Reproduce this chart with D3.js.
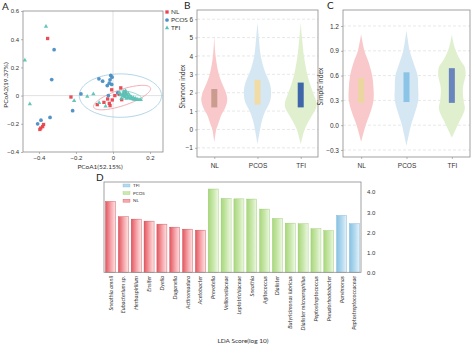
<!DOCTYPE html>
<html>
<head>
<meta charset="utf-8">
<script src="https://cdn.jsdelivr.net/npm/d3@7"></script>
<style>
  body { margin: 0; background: #fff; }
  svg { display: block; font-family: Lato, 'Liberation Sans', sans-serif; }
</style>
</head>
<body>
<svg id="fig" width="474" height="345"></svg>
<script>
// ---- data ----
const groups = ['NL', 'PCOS', 'TFI']

// panel A: PCoA points [PCoA1, PCoA2]
const pointsNL = [[-0.353, 0.405], [-0.227, -0.01], [-0.375, -0.205], [-0.38, -0.22], [-0.39, -0.23], [-0.395, -0.24],
  [-0.007, 0.041], [0.042, 0.055], [0.065, 0.021], [0.034, 0.009], [-0.004, -0.031], [-0.029, -0.024],
  [-0.049, -0.048], [-0.02, -0.055], [-0.085, -0.064], [0.047, -0.029], [-0.016, -0.071], [0.01, 0.0]]
const pointsPCOS = [[-0.318, 0.326], [-0.331, 0.114], [-0.218, -0.107], [-0.34, -0.155], [-0.389, -0.174], [-0.407, -0.2],
  [-0.173, 0.012], [-0.076, 0.119], [-0.056, 0.102], [-0.012, 0.143], [-0.005, 0.131], [-0.016, 0.112],
  [-0.02, 0.088], [-0.007, 0.079], [-0.031, 0.071], [0.025, 0.02], [-0.025, 0.0], [0.06, 0.01]]
const pointsTFI = [[-0.362, 0.49], [-0.476, 0.25], [-0.21, -0.036], [-0.449, -0.06], [-0.139, -0.007], [-0.106, 0.012],
  [0.05, 0.01], [0.055, -0.005], [0.06, 0.02], [0.062, 0.0], [0.065, -0.01], [0.07, 0.012], [0.072, -0.02],
  [0.075, 0.005], [0.08, -0.008], [0.082, 0.015], [0.085, -0.015], [0.09, 0.0], [0.095, -0.02], [0.1, -0.01],
  [0.105, -0.025], [0.11, -0.015], [0.115, -0.028], [0.12, -0.02], [0.125, -0.03], [0.13, -0.025], [0.14, -0.03],
  [0.15, -0.03], [0.058, 0.03], [0.068, 0.035], [0.045, -0.02], [0.04, 0.005], [0.035, 0.02], [-0.04, -0.075], [-0.075, -0.05]]
// ellipses: center x, center y, semi-axis a, semi-axis b, angle (deg, data space)
const ellipsePCOS = [0.04, 0.0, 0.222, 0.154, 0]
const ellipseNL = [0.049, -0.014, 0.168, 0.055, 25]
const ellipseTFI = [0.092, 0.0, 0.07, 0.025, -21]
const ticksA_x = [-0.4, -0.2, 0, 0.2]
const ticksA_y = [-0.4, -0.2, 0, 0.2, 0.4, 0.6]

// panel B: Shannon index violin outlines [value, relative half width]
const shannonNL = [[5.1, 0], [4.0, 0.1], [3.0, 0.35], [2.5, 0.6], [2.0, 0.9], [1.6, 1.0], [1.2, 0.85], [0.8, 0.55], [0.3, 0.3], [0, 0.15], [-0.7, 0]]
const shannonPCOS = [[5.8, 0], [5.0, 0.1], [4.0, 0.25], [3.2, 0.55], [2.5, 0.95], [2.0, 1.05], [1.5, 0.95], [1.0, 0.6], [0.5, 0.35], [0, 0.2], [-0.8, 0]]
const shannonTFI = [[5.8, 0], [5.0, 0.1], [4.0, 0.25], [3.0, 0.5], [2.5, 0.7], [2.0, 0.95], [1.5, 1.2], [1.2, 1.2], [0.8, 0.9], [0.3, 0.5], [0, 0.3], [-0.8, 0]]
const shannonBox = [[1.2, 2.2], [1.35, 2.7], [1.2, 2.55]]
const ticksB = [-1, 0, 1, 2, 3, 4, 5, 6]

// panel C: Simple index
const simpleNL = [[1.1, 0], [0.9, 0.25], [0.75, 0.6], [0.6, 0.85], [0.45, 0.95], [0.3, 0.95], [0.15, 0.7], [0, 0.35], [-0.2, 0]]
const simplePCOS = [[1.15, 0], [0.9, 0.25], [0.75, 0.55], [0.6, 0.85], [0.45, 0.9], [0.3, 0.9], [0.15, 0.65], [0, 0.35], [-0.25, 0]]
const simpleTFI = [[1.1, 0], [0.95, 0.2], [0.8, 0.6], [0.7, 1.0], [0.6, 1.05], [0.45, 0.85], [0.3, 0.9], [0.2, 1.0], [0.05, 0.6], [-0.15, 0]]
const simpleBox = [[0.27, 0.57], [0.28, 0.64], [0.27, 0.69]]
const ticksC = [-0.3, 0, 0.3, 0.6, 0.9, 1.2]

// panel D: LDA scores
const taxa = ['Sneathia amnii', 'Eubacterium sp.', 'Herbaspirillum', 'Ensifer', 'Dyella', 'Duganella', 'Actinomadura',
  'Acetobacter', 'Prevotella', 'Veillonellaceae', 'Leptotrichiaceae', 'Sneathia', 'Agitococcus', 'Dialister',
  'Butyricimonas lubricus', 'Dialister micraerophilus', 'Peptostreptococcus', 'Pseudorhodobacter', 'Parvimonas',
  'Peptostreptococcaceae']
const ldaScore = [3.53, 2.77, 2.65, 2.55, 2.4, 2.25, 2.15, 2.1, 4.15, 3.68, 3.66, 3.65, 3.15, 2.68, 2.45, 2.42, 2.17, 2.08, 2.83, 2.42]
const taxaGroup = ['NL', 'NL', 'NL', 'NL', 'NL', 'NL', 'NL', 'NL', 'PCOS', 'PCOS', 'PCOS', 'PCOS', 'PCOS', 'PCOS',
  'PCOS', 'PCOS', 'PCOS', 'PCOS', 'TFI', 'TFI']
const ticksD = [0, 1, 2, 3, 4]

// ---- styles ----
const ptColor = { NL: '#e8434f', PCOS: '#4a8ec4', TFI: '#5cc3b6' }
const ellColor = { NL: '#f2a3a9', PCOS: '#a9d0e4', TFI: '#7fd0c6' }
const violinFill = ['#f9c8ca', '#d5e7f3', '#e0f0cf']
const boxFillB = ['#c99c8f', '#f0dca4', '#3f66a8']
const boxFillC = ['#ecd6a0', '#8bc4e6', '#6a85bd']
const frameColor = '#8a8a8a'
const textColor = '#333'

const svg = d3.select('#fig')

function label(txt, x, y) {
  svg.append('text').attr('x', x).attr('y', y).attr('font-size', 10).attr('fill', '#222').text(txt)
}

function frame(x0, y0, x1, y1) {
  svg.append('rect').attr('x', x0).attr('y', y0).attr('width', x1 - x0).attr('height', y1 - y0)
    .attr('fill', 'none').attr('stroke', frameColor).attr('stroke-width', 0.8)
}

function styleAxis(g, size) {
  g.select('.domain').remove()
  g.selectAll('line').attr('stroke', frameColor).attr('stroke-width', 0.6)
  g.selectAll('text').attr('font-size', size).attr('fill', textColor).attr('font-family', null)
}

// ---- panel A ----
const ax = d3.scaleLinear().domain([-0.486, 0.27]).range([23, 163])
const ay = d3.scaleLinear().domain([-0.4, 0.6]).range([152, 11])

svg.append('line').attr('x1', ax(0)).attr('x2', ax(0)).attr('y1', ay(0.6)).attr('y2', ay(-0.4))
  .attr('stroke', '#d4d4d4').attr('stroke-width', 0.7)
svg.append('line').attr('x1', ax.range()[0]).attr('x2', ax.range()[1]).attr('y1', ay(0)).attr('y2', ay(0))
  .attr('stroke', '#d4d4d4').attr('stroke-width', 0.7)

function ellipsePath(e) {
  const [cx, cy, a, b, deg] = e
  const t = deg * Math.PI / 180
  const pts = d3.range(0, 2 * Math.PI + 0.01, Math.PI / 60).map(s => {
    const u = a * Math.cos(s), v = b * Math.sin(s)
    return [ax(cx + u * Math.cos(t) - v * Math.sin(t)), ay(cy + u * Math.sin(t) + v * Math.cos(t))]
  })
  return d3.line()(pts)
}
svg.append('path').attr('d', ellipsePath(ellipsePCOS)).attr('fill', 'none').attr('stroke', ellColor.PCOS).attr('stroke-width', 0.9)
svg.append('path').attr('d', ellipsePath(ellipseNL)).attr('fill', 'none').attr('stroke', ellColor.NL).attr('stroke-width', 0.9)
svg.append('path').attr('d', ellipsePath(ellipseTFI)).attr('fill', 'none').attr('stroke', ellColor.TFI).attr('stroke-width', 0.9)

const sym = {
  NL: d3.symbol().type(d3.symbolSquare).size(11),
  PCOS: d3.symbol().type(d3.symbolCircle).size(11),
  TFI: d3.symbol().type(d3.symbolTriangle).size(8)
}
const pointSets = [['PCOS', pointsPCOS], ['NL', pointsNL], ['TFI', pointsTFI]]
pointSets.forEach(([g, pts]) => {
  svg.append('g').selectAll('path').data(pts).join('path')
    .attr('d', sym[g])
    .attr('transform', d => `translate(${ax(d[0])},${ay(d[1])})`)
    .attr('fill', ptColor[g]).attr('fill-opacity', 0.95)
})

frame(23, 11, 163, 152)
const axA = svg.append('g').attr('transform', 'translate(0,152)')
  .call(d3.axisBottom(ax).tickValues(ticksA_x).tickSize(2).tickPadding(1.5).tickFormat(d => d === 0 ? '0' : d3.format('.1f')(d)))
styleAxis(axA, 6)
const ayA = svg.append('g').attr('transform', 'translate(23,0)')
  .call(d3.axisLeft(ay).tickValues(ticksA_y).tickSize(2).tickPadding(2).tickFormat(d => d === 0 ? '0' : d3.format('.1f')(d)))
styleAxis(ayA, 6)

svg.append('text').attr('x', 100).attr('y', 168.5).attr('text-anchor', 'middle')
  .attr('font-size', 6.5).attr('fill', textColor).text('PCoA1(52.15%)')
svg.append('text').attr('transform', 'translate(8,85) rotate(-90)').attr('text-anchor', 'middle')
  .attr('font-size', 6.5).attr('fill', textColor).text('PCoA2(19.37%)')

// legend A
groups.forEach((g, i) => {
  const y = 12 + i * 8
  svg.append('path').attr('d', sym[g]).attr('transform', `translate(167,${y})`).attr('fill', ptColor[g])
  svg.append('text').attr('x', 171).attr('y', y + 2.3).attr('font-size', 6.5).attr('fill', textColor).text(g)
})
label('A', 2, 10)

// ---- violin panels ----
function violinPanel(x0, x1, y0, y1, domain, ticks, fmt, series, boxes, boxFill, yTitle, titleX, halfMax) {
  const y = d3.scaleLinear().domain(domain).range([y1, y0])
  const x = d3.scalePoint().domain(groups).range([x0, x1]).padding(0.4)
  const w = d3.scaleLinear().domain([0, 1]).range([0, halfMax])

  svg.append('g').selectAll('line').data(ticks).join('line')
    .attr('x1', x0).attr('x2', x1).attr('y1', d => y(d)).attr('y2', d => y(d))
    .attr('stroke', '#d9d9d9').attr('stroke-width', 0.6).attr('stroke-dasharray', '3,2')

  series.forEach((s, i) => {
    const cx = x(groups[i])
    const area = d3.area().curve(d3.curveCatmullRom)
      .y(d => y(d[0])).x0(d => cx - w(d[1])).x1(d => cx + w(d[1]))
    svg.append('path').attr('d', area(s)).attr('fill', violinFill[i])
    svg.append('rect').attr('x', cx - 3).attr('width', 6)
      .attr('y', y(boxes[i][1])).attr('height', y(boxes[i][0]) - y(boxes[i][1]))
      .attr('fill', boxFill[i])
  })

  frame(x0, y0, x1, y1)
  const gy = svg.append('g').attr('transform', `translate(${x0},0)`)
    .call(d3.axisLeft(y).tickValues(ticks).tickSize(2).tickPadding(2).tickFormat(fmt))
  styleAxis(gy, 6.5)
  const gx = svg.append('g').attr('transform', `translate(0,${y1})`)
    .call(d3.axisBottom(x).tickSize(2).tickPadding(4))
  styleAxis(gx, 6.5)
  svg.append('text').attr('transform', `translate(${titleX},${(y0 + y1) / 2 + 3}) rotate(-90)`)
    .attr('text-anchor', 'middle').attr('font-size', 6.8).attr('fill', textColor).text(yTitle)
}

violinPanel(197, 318, 10, 157, [-1.5, 6.5], ticksB, d3.format('d'),
  [shannonNL, shannonPCOS, shannonTFI], shannonBox, boxFillB, 'Shannon index', 185, 13)
label('B', 184, 9)

violinPanel(343, 470, 10, 157, [-0.385, 1.394], ticksC, d3.format('.1f'),
  [simpleNL, simplePCOS, simpleTFI], simpleBox, boxFillC, 'Simple index', 323, 13)
label('C', 327, 9)

// ---- panel D ----
const dx = d3.scaleBand().domain(taxa).range([104, 361]).paddingInner(0.22).paddingOuter(0.12)
const dy = d3.scaleLinear().domain([0, 4.5]).range([272.3, 182])

const barColors = {
  NL: ['#e35660', '#f6a7ab', '#fde3e4', '#c9454d'],
  PCOS: ['#a7d77a', '#cbe8ae', '#eef8e4', '#95c56a'],
  TFI: ['#86c2e3', '#b5daef', '#e5f2fa', '#74acd0']
}
const defs = svg.append('defs')
groups.forEach(g => {
  const grad = defs.append('linearGradient').attr('id', 'grad' + g).attr('x1', 0).attr('x2', 1).attr('y1', 0).attr('y2', 0)
  grad.append('stop').attr('offset', '0%').attr('stop-color', barColors[g][0])
  grad.append('stop').attr('offset', '55%').attr('stop-color', barColors[g][1])
  grad.append('stop').attr('offset', '100%').attr('stop-color', barColors[g][2])
})

svg.append('g').selectAll('rect').data(taxa).join('rect')
  .attr('x', d => dx(d)).attr('width', dx.bandwidth())
  .attr('y', (d, i) => dy(ldaScore[i])).attr('height', (d, i) => dy(0) - dy(ldaScore[i]))
  .attr('fill', (d, i) => `url(#grad${taxaGroup[i]})`)
  .attr('stroke', (d, i) => barColors[taxaGroup[i]][3]).attr('stroke-width', 0.4)

frame(104, 182, 361, 272.3)
const gyD = svg.append('g').attr('transform', 'translate(361,0)')
  .call(d3.axisRight(dy).tickValues(ticksD).tickSize(0).tickPadding(6))
styleAxis(gyD, 6)

svg.append('g').selectAll('text').data(taxa).join('text')
  .attr('transform', d => `translate(${dx(d) + dx.bandwidth() / 2 + 2},276) rotate(-90)`)
  .attr('text-anchor', 'end').attr('font-size', 5.6).attr('font-style', 'italic').attr('fill', textColor)
  .text(d => d)

svg.append('text').attr('x', 243).attr('y', 343).attr('text-anchor', 'middle')
  .attr('font-size', 6.5).attr('fill', textColor).text('LDA Score(log 10)')

// legend D
const legendD = ['TFI', 'PCOS', 'NL']
legendD.forEach((g, i) => {
  const y = 185.5 + i * 7.6
  svg.append('rect').attr('x', 123).attr('y', y - 1.5).attr('width', 7).attr('height', 3)
    .attr('fill', barColors[g][1]).attr('stroke', barColors[g][3]).attr('stroke-width', 0.3)
  svg.append('text').attr('x', 133).attr('y', y + 1.6).attr('font-size', 4.5).attr('fill', textColor).text(g)
})
label('D', 96, 181)
</script>
</body>
</html>
